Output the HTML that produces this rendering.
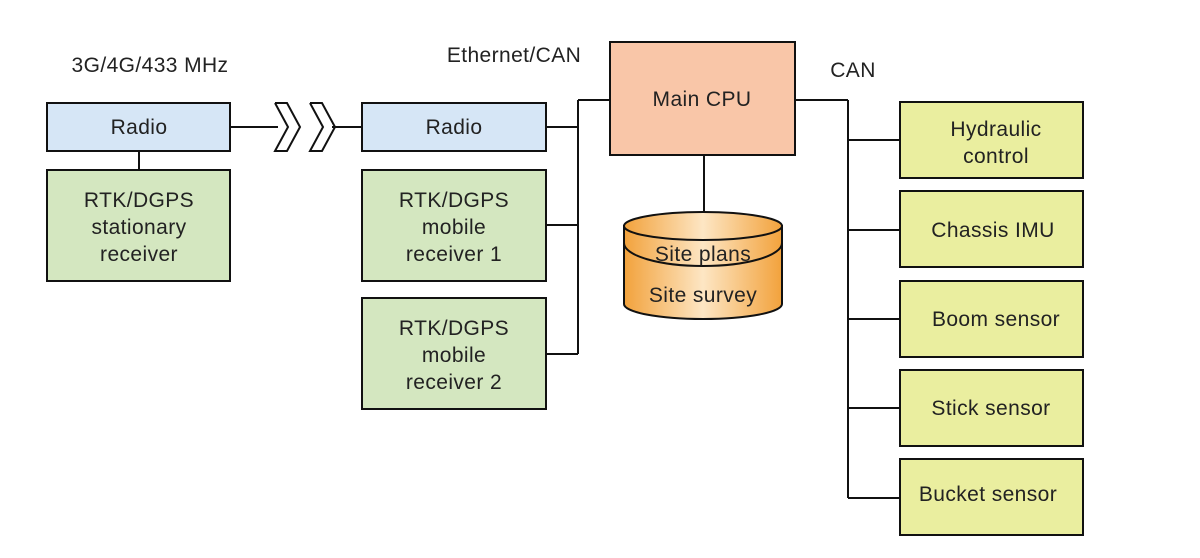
<!DOCTYPE html>
<html><head><meta charset="utf-8"><style>
html,body{margin:0;padding:0;background:#fff;}
svg{display:block;}
text{font-family:"Liberation Sans",sans-serif;font-size:21px;letter-spacing:0.4px;fill:#222;text-anchor:middle;}
</style></head><body>
<svg width="1200" height="558" viewBox="0 0 1200 558" xmlns="http://www.w3.org/2000/svg">
<defs>
<linearGradient id="cyl" x1="0" x2="1" y1="0" y2="0">
<stop offset="0" stop-color="#f2a23c"/><stop offset="0.5" stop-color="#fde6c4"/><stop offset="1" stop-color="#f2a23c"/>
</linearGradient>
</defs>
<g stroke="#111" stroke-width="2" fill="none">
<line x1="139" y1="151" x2="139" y2="170"/>
<line x1="230" y1="127" x2="278" y2="127"/>
<line x1="332" y1="127" x2="362" y2="127"/>
<polyline points="275,103 287,103 300,127 287,151 275,151 288,127 275,103"/>
<polyline points="310,103 322,103 335,127 322,151 310,151 323,127 310,103"/>
<line x1="578" y1="100" x2="578" y2="354"/>
<line x1="546" y1="127" x2="578" y2="127"/>
<line x1="546" y1="225" x2="578" y2="225"/>
<line x1="546" y1="354" x2="578" y2="354"/>
<line x1="578" y1="100" x2="610" y2="100"/>
<line x1="704" y1="155" x2="704" y2="212"/>
<line x1="795" y1="100" x2="848" y2="100"/>
<line x1="848" y1="100" x2="848" y2="498"/>
<line x1="848" y1="140" x2="900" y2="140"/>
<line x1="848" y1="230" x2="900" y2="230"/>
<line x1="848" y1="319" x2="900" y2="319"/>
<line x1="848" y1="408" x2="900" y2="408"/>
<line x1="848" y1="498" x2="900" y2="498"/>
</g>
<g stroke="#111" stroke-width="2">
<rect x="47" y="103" width="183" height="48" fill="#d6e6f6"/>
<rect x="47" y="170" width="183" height="111" fill="#d4e7c0"/>
<rect x="362" y="103" width="184" height="48" fill="#d6e6f6"/>
<rect x="362" y="170" width="184" height="111" fill="#d4e7c0"/>
<rect x="362" y="298" width="184" height="111" fill="#d4e7c0"/>
<rect x="610" y="42" width="185" height="113" fill="#f9c6a8"/>
<rect x="900" y="102" width="183" height="76" fill="#eaee9f"/>
<rect x="900" y="191" width="183" height="76" fill="#eaee9f"/>
<rect x="900" y="281" width="183" height="76" fill="#eaee9f"/>
<rect x="900" y="370" width="183" height="76" fill="#eaee9f"/>
<rect x="900" y="459" width="183" height="76" fill="#eaee9f"/>
<path d="M624,226 L624,304 A79,15 0 0 0 782,304 L782,226 Z" fill="url(#cyl)"/>
<ellipse cx="703" cy="226" rx="79" ry="14" fill="url(#cyl)"/>
<path d="M624,243 A79,23 0 0 0 782,243" fill="none"/>
</g>
<text x="150" y="72">3G/4G/433 MHz</text>
<text x="514" y="62">Ethernet/CAN</text>
<text x="853" y="77">CAN</text>
<text x="139" y="134">Radio</text>
<text x="139" y="207">RTK/DGPS</text>
<text x="139" y="234">stationary</text>
<text x="139" y="261">receiver</text>
<text x="454" y="134">Radio</text>
<text x="454" y="207">RTK/DGPS</text>
<text x="454" y="234">mobile</text>
<text x="454" y="261">receiver 1</text>
<text x="454" y="335">RTK/DGPS</text>
<text x="454" y="362">mobile</text>
<text x="454" y="389">receiver 2</text>
<text x="702" y="106">Main CPU</text>
<text x="703" y="261">Site plans</text>
<text x="703" y="302">Site survey</text>
<text x="996" y="136">Hydraulic</text>
<text x="996" y="163">control</text>
<text x="993" y="237">Chassis IMU</text>
<text x="996" y="326">Boom sensor</text>
<text x="991" y="415">Stick sensor</text>
<text x="988" y="501">Bucket sensor</text>
</svg>
</body></html>
